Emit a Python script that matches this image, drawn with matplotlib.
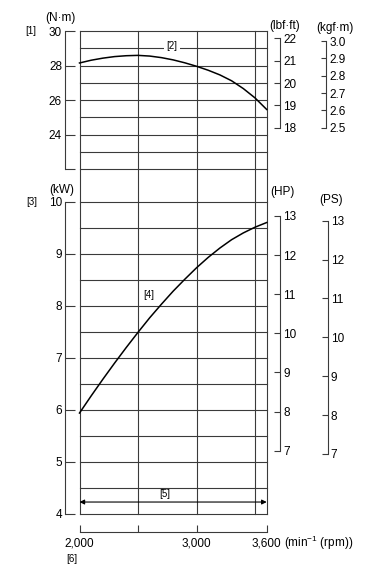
import matplotlib
matplotlib.use("Agg")
import matplotlib.pyplot as plt

plt.rcParams['font.family'] = ['Liberation Sans', 'DejaVu Sans']
plt.rcParams['mathtext.fontset'] = 'custom'
plt.rcParams['mathtext.rm'] = 'Liberation Sans'
plt.rcParams['mathtext.it'] = 'Liberation Sans'

# ---- data ----
rpm = [2000, 2100, 2200, 2300, 2400, 2500, 2600, 2700, 2800,
       2900, 3000, 3100, 3200, 3300, 3400, 3500, 3600]
torque_nm = [28.15, 28.31, 28.43, 28.52, 28.57, 28.59, 28.55, 28.46, 28.33,
             28.16, 27.96, 27.73, 27.46, 27.12, 26.67, 26.13, 25.46]
power_kw = [5.94, 6.27, 6.59, 6.90, 7.20, 7.49, 7.77, 8.03, 8.28,
            8.51, 8.73, 8.93, 9.11, 9.27, 9.40, 9.51, 9.60]

rpm_grid = [2000, 2500, 3000, 3500, 3600]
rpm_ticks = [2000, 2500, 3000, 3600]
rpm_labels = ["2,000", "", "3,000", "3,600"]

nm_grid = [22, 23, 24, 25, 26, 27, 28, 29, 30]
nm_ticks = [30, 28, 26, 24, 22]
nm_labels = ["30", "28", "26", "24", ""]
kw_grid = [4, 4.5, 5, 5.5, 6, 6.5, 7, 7.5, 8, 8.5, 9, 9.5, 10]
kw_ticks = [10, 9, 8, 7, 6, 5, 4]
lbf_ticks = [22, 21, 20, 19, 18]
kgf_ticks = [3.0, 2.9, 2.8, 2.7, 2.6, 2.5]
kgf_labels = ["3.0", "2.9", "2.8", "2.7", "2.6", "2.5"]
hp_ticks = [13, 12, 11, 10, 9, 8, 7]
ps_ticks = [13, 12, 11, 10, 9, 8, 7]

range_rpm = [2000, 3600]
range_level_kw = 4.23

W, H = 367, 565
fig = plt.figure(figsize=(W / 100, H / 100), dpi=100)
fig.patch.set_facecolor('white')

LC = '#3a3a3a'
LW = 0.8
FS = 8.5


def rect(x0, yt, x1, yb):
    return [x0 / W, 1 - yb / H, (x1 - x0) / W, (yb - yt) / H]


def blank(ax):
    for s in ax.spines.values():
        s.set_visible(False)
    ax.set_xticks([])
    ax.set_yticks([])
    ax.patch.set_alpha(0)


X0, X1 = 79.5, 266.7

# vertical grid over the whole height
axg = fig.add_axes(rect(X0, 31, X1, 514))
blank(axg)
axg.set_xlim(range_rpm[0], range_rpm[1])
axg.set_ylim(0, 1)
for r in rpm_grid:
    axg.axvline(r, color=LC, lw=LW, clip_on=False)

# torque panel
axt = fig.add_axes(rect(X0, 31, X1, 169.3))
blank(axt)
axt.set_xlim(range_rpm[0], range_rpm[1])
axt.set_ylim(22, 30)
for v in nm_grid:
    axt.axhline(v, color=LC, lw=LW, clip_on=False)
axt.plot(rpm, torque_nm, color='black', lw=1.1, clip_on=False)
axt.text(2788, 29.15, "[2]", ha='center', va='center', fontsize=7, zorder=5,
         bbox=dict(facecolor='white', edgecolor='none', pad=1.8))

# power panel
axp = fig.add_axes(rect(X0, 201.7, X1, 514))
blank(axp)
axp.set_xlim(range_rpm[0], range_rpm[1])
axp.set_ylim(4, 10)
for v in kw_grid:
    axp.axhline(v, color=LC, lw=LW, clip_on=False)
axp.plot(rpm, power_kw, color='black', lw=1.1, clip_on=False)
axp.text(2595, 8.2, "[4]", ha='center', va='center', fontsize=7)
axp.annotate("", xy=(range_rpm[0], range_level_kw), xytext=(range_rpm[1], range_level_kw),
             arrowprops=dict(arrowstyle='<|-|>', color='black', lw=0.8,
                             mutation_scale=7, shrinkA=0, shrinkB=0))
axp.text(2725, range_level_kw + 0.15, "[5]", ha='center', va='center', fontsize=7)


def scale_axis(x, yt, yb, lo, hi, ticks, labels, side, ticklen):
    if side == 'left':
        ax = fig.add_axes(rect(x, yt, x + 5, yb))
    else:
        ax = fig.add_axes(rect(x - 5, yt, x, yb))
    for s in ax.spines.values():
        s.set_visible(False)
    ax.patch.set_alpha(0)
    ax.spines[side].set_visible(True)
    ax.spines[side].set_color(LC)
    ax.spines[side].set_linewidth(LW)
    ax.set_xticks([])
    ax.set_ylim(lo, hi)
    ax.set_yticks(ticks)
    ax.set_yticklabels(labels)
    if side == 'right':
        ax.yaxis.tick_right()
    ax.tick_params(axis='y', direction='in', length=ticklen, width=LW, color=LC,
                   pad=2.4, labelsize=FS, left=(side == 'left'), right=(side == 'right'),
                   labelleft=(side == 'left'), labelright=(side == 'right'))
    return ax


scale_axis(65.3, 31, 169.3, 22, 30, nm_ticks, nm_labels, 'left', 7.5)
scale_axis(65.3, 201.7, 514, 4, 10, kw_ticks, [str(t) for t in kw_ticks], 'left', 7.5)
scale_axis(280, 38.3, 127.7, 18, 22, lbf_ticks, [str(t) for t in lbf_ticks], 'right', 4)
scale_axis(326, 41, 127.7, 2.5, 3.0, kgf_ticks, kgf_labels, 'right', 3.8)
scale_axis(280, 216, 450.7, 7, 13, hp_ticks, [str(t) for t in hp_ticks], 'right', 4)
scale_axis(327.5, 220.7, 454, 7, 13, ps_ticks, [str(t) for t in ps_ticks], 'right', 4)

# bottom rpm scale
axx = fig.add_axes(rect(X0, 527, X1, 532.3))
for s in axx.spines.values():
    s.set_visible(False)
axx.patch.set_alpha(0)
axx.spines['bottom'].set_visible(True)
axx.spines['bottom'].set_color(LC)
axx.spines['bottom'].set_linewidth(LW)
axx.set_yticks([])
axx.set_xlim(range_rpm[0], range_rpm[1])
axx.set_xticks(rpm_ticks)
axx.set_xticklabels(rpm_labels)
axx.tick_params(axis='x', direction='in', length=4.8, width=LW, color=LC,
                pad=4.0, labelsize=FS)


def ftext(x, y, s, size=FS, ha='center'):
    fig.text(x / W, 1 - y / H, s, ha=ha, va='center', fontsize=size)


ftext(60, 17.5, "(N·m)")
ftext(31, 31, "[1]", size=7)
ftext(62, 190, "(kW)")
ftext(31.5, 201.7, "[3]", size=7)
ftext(284.5, 25.5, "(lbf·ft)")
ftext(335, 28, "(kgf·m)")
ftext(282.5, 191.7, "(HP)")
ftext(331.5, 200, "(PS)")
ftext(284, 543, r"(min$^{\mathregular{-1}}$ (rpm))", ha='left')
ftext(71.7, 558.5, "[6]", size=7)

fig.savefig("out.png", dpi=100, facecolor='white')
